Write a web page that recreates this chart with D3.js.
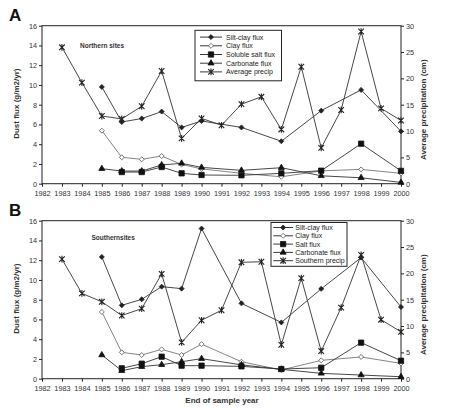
<!DOCTYPE html>
<html lang="en">
<head>
<meta charset="UTF-8">
<title>Dust flux</title>
<style>
  body { margin: 0; padding: 0; background: #fff; }
  svg { display: block; font-family: "Liberation Sans", Arial, sans-serif; }
</style>
</head>
<body>
<script src="https://d3js.org/d3.v7.min.js"></script>
<script>
// data
const precipYears = [1983, 1984, 1985, 1986, 1987, 1988, 1989, 1990, 1991, 1992, 1993, 1994, 1995, 1996, 1997, 1998, 1999, 2000];
const fluxYears = [1985, 1986, 1987, 1988, 1989, 1990, 1992, 1994, 1996, 1998, 2000];
const xTicks = d3.range(1982, 2001);

// northern sites
const northSiltClay = [9.8, 6.25, 6.6, 7.3, 5.7, 6.35, 5.7, 4.3, 7.4, 9.5, 5.3];
const northClay = [5.37, 2.67, 2.47, 2.8, 1.95, 1.5, 1.05, 0.7, 1.3, 1.45, 1.05];
const northSalt = [null, 1.18, 1.18, 1.69, 1.05, 0.88, 0.85, 1.05, 1.32, 4.05, 1.3];
const northCarbonate = [1.52, 1.28, 1.28, 1.9, 2.06, 1.65, 1.35, 1.62, 0.8, 0.6, 0.13];
const northPrecip = [25.9, 19.2, 12.85, 12.3, 14.7, 21.4, 8.6, 12.4, 11.1, 15.1, 16.5, 10.3, 22.2, 6.8, 14.0, 28.9, 14.3, 12.0];

// southern sites
const southSiltClay = [12.33, 7.43, 8.04, 9.32, 9.12, 15.2, 7.63, 5.7, 9.1, 12.26, 7.26];
const southClay = [6.76, 2.67, 2.4, 2.97, 2.4, 3.5, 1.72, 0.88, 1.86, 2.2, 1.55];
const southSalt = [null, 1.05, 1.52, 2.23, 1.32, 1.32, 1.25, 0.98, 1.11, 3.65, 1.82];
const southCarbonate = [2.4, 0.81, 1.22, 1.42, 1.72, 2.03, 1.4, 0.95, 0.54, 0.37, 0.2];
const southPrecip = [22.7, 16.2, 14.6, 12.0, 13.3, 19.9, 6.9, 11.1, 13.0, 22.1, 22.2, 6.45, 19.1, 5.25, 13.5, 23.5, 11.2, 8.9];

const northLabels = ['Silt-clay flux', 'Clay flux', 'Soluble salt flux', 'Carbonate flux', 'Average precip'];
const southLabels = ['Silt-clay flux', 'Clay flux', 'Salt flux', 'Carbonate flux', 'Southern precip'];

const W = 449, H = 409;
const svg = d3.select('body').append('svg').attr('width', W).attr('height', H);

const x = d3.scaleLinear().domain([1982, 2000]).range([42, 401]);

// asterisk marker: an X with a vertical bar
function star(r) {
  return `M${-r},${-r}L${r},${r}M${-r},${r}L${r},${-r}M0,${-r * 1.2}L0,${r * 1.2}`;
}

// squat diamond (rotated square)
const diamond = d3.symbolDiamond2 || d3.symbolDiamond;

const markers = [
  { shape: diamond, size: 16, fill: '#222', stroke: '#222', line: '#333' },
  { shape: diamond, size: 16, fill: '#fff', stroke: '#555', line: '#777' },
  { shape: d3.symbolSquare, size: 28, fill: '#111', stroke: '#111', line: '#333' },
  { shape: d3.symbolTriangle, size: 16, fill: '#111', stroke: '#111', line: '#333' },
  { shape: null, size: 2.8, fill: 'none', stroke: '#222', line: '#333' }
];

function drawMarker(sel, m) {
  sel.attr('fill', m.fill).attr('stroke', m.stroke);
  if (m.shape) {
    sel.attr('d', d3.symbol().type(m.shape).size(m.size)).attr('stroke-width', 0.8);
  } else {
    sel.attr('d', star(m.size)).attr('stroke-width', 1.1);
  }
}

function drawPanel(cfg) {
  const y = d3.scaleLinear().domain([0, 16]).range([cfg.bottom, cfg.top]);
  const y2 = d3.scaleLinear().domain([0, 30]).range([cfg.bottom, cfg.top]);
  const g = svg.append('g');

  // frame
  g.append('rect')
    .attr('x', x.range()[0]).attr('y', cfg.top)
    .attr('width', x.range()[1] - x.range()[0]).attr('height', cfg.bottom - cfg.top)
    .attr('fill', 'none').attr('stroke', '#222').attr('stroke-width', 1);

  const axisStyle = a => {
    a.select('.domain').remove();
    a.selectAll('line').attr('stroke', '#222');
    a.selectAll('text').attr('fill', '#333').attr('font-size', 7.3);
  };

  g.append('g').attr('transform', `translate(0,${cfg.bottom})`)
    .call(d3.axisBottom(x).tickValues(xTicks).tickFormat(d3.format('d')).tickSize(3).tickPadding(4))
    .call(axisStyle);
  g.append('g').attr('transform', `translate(${x.range()[0]},0)`)
    .call(d3.axisLeft(y).tickValues(d3.range(0, 17, 2)).tickSize(3).tickPadding(2))
    .call(axisStyle);
  g.append('g').attr('transform', `translate(${x.range()[1]},0)`)
    .call(d3.axisRight(y2).tickValues(d3.range(0, 31, 5)).tickSize(3).tickPadding(2))
    .call(axisStyle);

  // series
  const series = [
    { vals: cfg.siltClay, years: fluxYears, sy: y },
    { vals: cfg.clay, years: fluxYears, sy: y },
    { vals: cfg.salt, years: fluxYears, sy: y },
    { vals: cfg.carbonate, years: fluxYears, sy: y },
    { vals: cfg.precip, years: precipYears, sy: y2 }
  ];
  const order = [1, 3, 2, 0, 4];
  order.forEach(i => {
    const s = series[i];
    const m = markers[i];
    const pts = s.years.map((yr, j) => ({ yr, v: s.vals[j] })).filter(d => d.v != null);
    g.append('path')
      .datum(pts)
      .attr('fill', 'none').attr('stroke', m.line).attr('stroke-width', 0.9)
      .attr('d', d3.line().x(d => x(d.yr)).y(d => s.sy(d.v)));
    g.append('g').selectAll('path').data(pts).join('path')
      .attr('transform', d => `translate(${x(d.yr)},${s.sy(d.v)})`)
      .call(drawMarker, m);
  });

  // legend
  const L = cfg.legend;
  const lg = svg.append('g');
  lg.append('rect')
    .attr('x', L.x).attr('y', L.y)
    .attr('width', L.w).attr('height', L.h)
    .attr('fill', '#fff').attr('stroke', '#222').attr('stroke-width', 1);
  cfg.labels.forEach((lab, i) => {
    const ly = L.y + L.first + i * L.step;
    const lx = L.x + L.lineX;
    lg.append('line')
      .attr('x1', lx).attr('x2', lx + L.lineW)
      .attr('y1', ly).attr('y2', ly)
      .attr('stroke', '#222').attr('stroke-width', 0.9);
    lg.append('path')
      .attr('transform', `translate(${lx + L.lineW / 2},${ly})`)
      .call(drawMarker, markers[i]);
    lg.append('text')
      .attr('x', lx + L.lineW + L.gap).attr('y', ly + 2.5)
      .attr('font-size', 7).attr('fill', '#222')
      .text(lab);
  });

  // site label
  svg.append('text')
    .attr('x', cfg.site.x).attr('y', cfg.site.y)
    .attr('font-size', 6.5).attr('font-weight', 'bold').attr('fill', '#333')
    .text(cfg.site.text);

  // panel letter
  svg.append('text')
    .attr('x', 9).attr('y', cfg.top - 5)
    .attr('font-size', 17).attr('font-weight', 'bold').attr('fill', '#111')
    .text(cfg.letter);

  // axis titles
  const mid = (cfg.top + cfg.bottom) / 2;
  svg.append('text')
    .attr('transform', `translate(18.5,${mid - 1}) rotate(-90)`)
    .attr('text-anchor', 'middle')
    .attr('font-size', 8).attr('font-weight', 'bold').attr('fill', '#333')
    .text('Dust flux (g/m2/yr)');
  svg.append('text')
    .attr('transform', `translate(426,${mid + 5}) rotate(-90)`)
    .attr('text-anchor', 'middle')
    .attr('font-size', 8).attr('font-weight', 'bold').attr('fill', '#333')
    .text('Average precipitation (cm)');
}

drawPanel({
  letter: 'A', top: 25.7, bottom: 183.7,
  siltClay: northSiltClay, clay: northClay, salt: northSalt,
  carbonate: northCarbonate, precip: northPrecip,
  labels: northLabels,
  legend: { x: 195, y: 30.3, w: 86.5, h: 50.5, lineX: 5, lineW: 22, gap: 4, first: 6.8, step: 8.7 },
  site: { x: 80, y: 47.5, text: 'Northern sites' }
});

drawPanel({
  letter: 'B', top: 220.7, bottom: 378.7,
  siltClay: southSiltClay, clay: southClay, salt: southSalt,
  carbonate: southCarbonate, precip: southPrecip,
  labels: southLabels,
  legend: { x: 271, y: 222.5, w: 76, h: 43.8, lineX: 2.3, lineW: 19.7, gap: 2.3, first: 5, step: 8.3 },
  site: { x: 91.5, y: 239.5, text: 'Southernsites' }
});

svg.append('text')
  .attr('x', 222).attr('y', 403)
  .attr('text-anchor', 'middle')
  .attr('font-size', 8).attr('font-weight', 'bold').attr('fill', '#333')
  .text('End of sample year');
</script>
</body>
</html>
